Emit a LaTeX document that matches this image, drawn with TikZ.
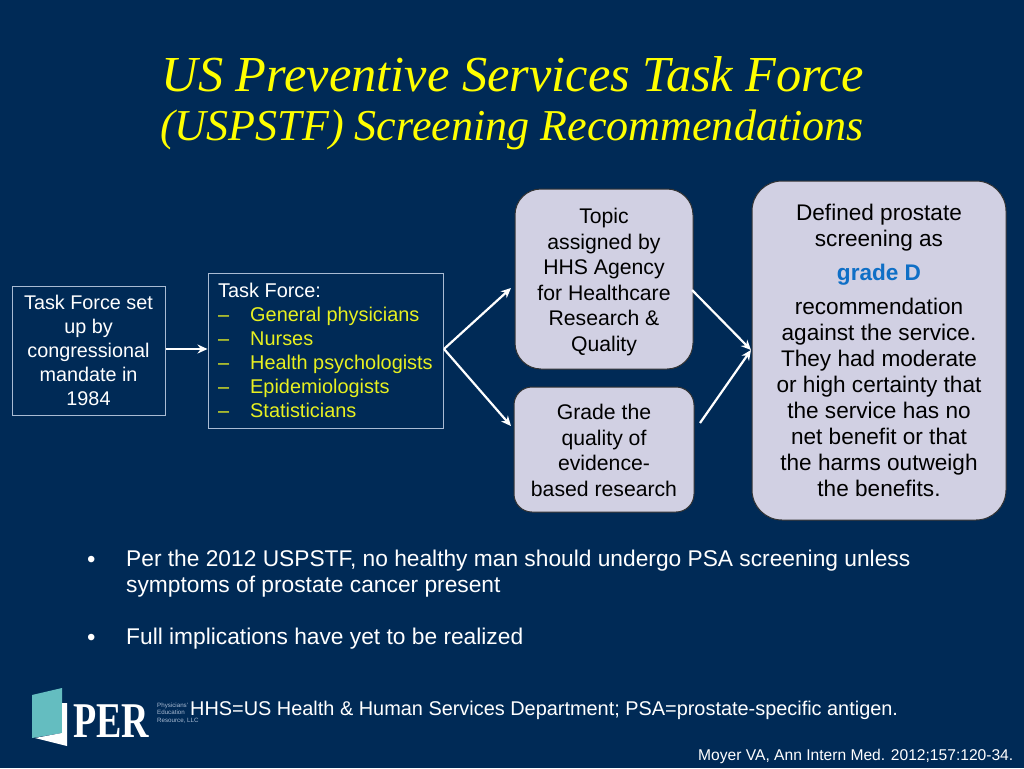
\documentclass[tikz,border=0pt]{standalone}
\usepackage{fontspec}
\usepackage{graphicx}
\setmainfont{Liberation Sans}
\newfontfamily\serifx{Liberation Serif}
\usetikzlibrary{arrows.meta}
\definecolor{bgnavy}{HTML}{002A56}
\definecolor{boxline}{HTML}{A9BBD3}
\definecolor{lav}{HTML}{D1D0E3}
\definecolor{yel}{HTML}{E8F020}
\definecolor{titley}{HTML}{FFFF00}
\definecolor{teal}{HTML}{64BDC0}
\definecolor{gradeblue}{HTML}{0F6FC6}
\newcommand{\bodyfs}{\fontsize{19.9}{24}\selectfont}
\newcommand{\midfs}{\fontsize{21.2}{25.6}\selectfont}
\newcommand{\leftfs}{\fontsize{19.8}{24}\selectfont}
\newcommand{\rightfs}{\fontsize{22.6}{26}\selectfont}
\newcommand{\bulletfs}{\fontsize{22.75}{26}\selectfont}
\newcommand{\dotfs}{\fontsize{24}{30}\selectfont}
\tikzset{
 x=1pt,y=-1pt,
 plainbox/.style={draw=boxline,line width=1pt,inner sep=0pt,text=white,align=center},
 roundbox/.style={draw=black!80,line width=1pt,fill=lav,inner sep=0pt,text=black,align=center},
 conn/.style={draw=white,line width=2.2pt,-{Stealth[length=10pt,width=9pt]}},
 txt/.style={inner sep=0pt,anchor=base west,text=white},
}
\begin{document}
\begin{tikzpicture}
\useasboundingbox (0,0) rectangle (1024,768);
\fill[bgnavy] (0,0) rectangle (1024,768);
% title
\node[inner sep=0pt,text=titley,font=\serifx\itshape\fontsize{50.4}{55}\selectfont] (t1) at (513,74) {US Preventive Services Task Force};
\node[inner sep=0pt,text=titley,font=\serifx\itshape\fontsize{44.1}{50}\selectfont] (t2) at (512,130) {(USPSTF) Screening Recommendations};
% boxes
\node[plainbox,font=\leftfs,minimum width=153pt,minimum height=129pt] (setup) at (88.5,350.5) {Task Force set\\up by\\congressional\\mandate in\\1984};
\node[plainbox,minimum width=235pt,minimum height=155pt] (force) at (325.5,350.5) {};
\node[txt,font=\bodyfs] (f0) at (218,297) {Task Force:};
\foreach \n/\y/\s in {a/321/General physicians,b/345/Nurses,c/369/Health psychologists,d/393/Epidemiologists,e/417/Statisticians}{
  \node[txt,text=yel,font=\bodyfs] (d\n) at (218,\y) {–};
  \node[txt,text=yel,font=\bodyfs] (f\n) at (250,\y) {\s};
}
\node[roundbox,rounded corners=26pt,minimum width=178pt,minimum height=180pt] (topic) at (604,279) {};
\node[inner sep=0pt,align=center,text=black,font=\midfs] (topictxt) at (604,282) {Topic\\assigned by\\HHS Agency\\for Healthcare\\Research \&\\Quality};
\node[roundbox,rounded corners=18pt,minimum width=180pt,minimum height=125pt] (grade) at (604,449.5) {};
\node[inner sep=0pt,align=center,text=black,font=\midfs] (gradetxt) at (604,450.5) {Grade the\\quality of\\evidence-\\based research};
\node[roundbox,rounded corners=30pt,minimum width=254pt,minimum height=339pt] (def) at (879,350.5) {};
\node[inner sep=0pt,align=center,font=\rightfs] (d1) at (879,228) {Defined prostate\\screening as};
\node[inner sep=0pt,text=gradeblue,font=\rightfs\bfseries] (d2) at (879,275) {grade D};
\node[inner sep=0pt,align=center,font=\rightfs] (d3) at (879,397) {recommendation\\against the service.\\They had moderate\\or high certainty that\\the service has no\\net benefit or that\\the harms outweigh\\the benefits.};
% connectors
\coordinate (topicin) at (511,288);
\coordinate (gradein) at (511,426);
\coordinate (forceout) at (444,349);
\coordinate (topicout) at (692,290);
\coordinate (gradeout) at (700,423);
\coordinate (defin) at (751,350);
\draw[conn] (setup.east |- forceout) -- (force.west |- forceout);
\draw[conn] (forceout) -- (topicin);
\draw[conn] (forceout) -- (gradein);
\draw[conn] (topicout) -- (defin);
\draw[conn] (gradeout) -- (defin);
% bullets
\node[txt,font=\dotfs] (b1) at (87,567) {•};
\node[txt,font=\bulletfs] (b1a) at (126,566) {Per the 2012 USPSTF, no healthy man should undergo PSA screening unless};
\node[txt,font=\bulletfs] (b1b) at (126,592) {symptoms of prostate cancer present};
\node[txt,font=\dotfs] (b2) at (87,645) {•};
\node[txt,font=\bulletfs] (b2a) at (126,644) {Full implications have yet to be realized};
\node[txt,font=\fontsize{19.9}{22}\selectfont] (hhs) at (190,715) {HHS=US Health \& Human Services Department; PSA=prostate-specific antigen.};
\node[txt,font=\fontsize{15.6}{18}\selectfont] (cite) at (698,760) {Moyer VA, Ann Intern Med. 2012;157:120-34.};
% logo
\fill[teal] (32,695) -- (62,688) -- (62,733) -- (32,738) -- cycle;
\fill[white] (62,703) -- (67,703) -- (67,746) -- (35,738) -- (62,733) -- cycle;
\node[txt] (per) at (73,737) {\scalebox{.76}[1]{\serifx\bfseries\fontsize{50}{50}\selectfont PER}};
\node[txt,align=left,anchor=base west,text=boxline,font=\fontsize{6.2}{7.5}\selectfont] (perx) at (157,722) {Physicians'\\Education\\Resource, LLC};
\end{tikzpicture}
\end{document}
